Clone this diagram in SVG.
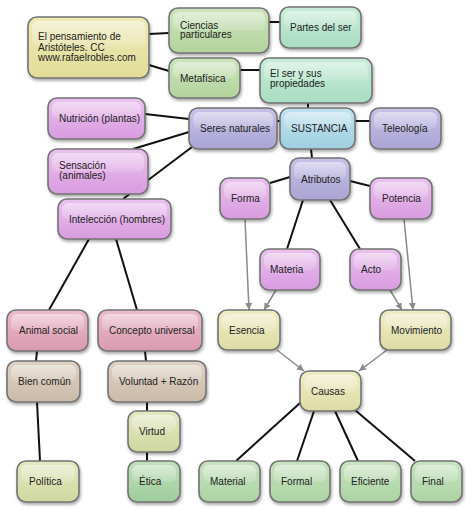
<svg xmlns="http://www.w3.org/2000/svg" width="474" height="514" viewBox="0 0 474 514">
<defs>
<style>
.box{stroke:#737373;stroke-width:1.6;filter:url(#sh)}
.gl{fill:url(#gloss)}
text{font-family:"Liberation Sans",Arial,sans-serif;font-size:10px;fill:#222}
.c{stroke:#111;stroke-width:2;fill:none}
.a{stroke:#8a8a8a;stroke-width:1.5;fill:none;marker-end:url(#ah)}
</style>
<filter id="sh" x="-20%" y="-20%" width="140%" height="150%"><feDropShadow dx="1" dy="2" stdDeviation="1.5" flood-color="#000" flood-opacity="0.35"/></filter>
<marker id="ah" viewBox="0 0 10 10" refX="10" refY="5" markerWidth="7" markerHeight="7" orient="auto" markerUnits="userSpaceOnUse"><path d="M0,0 L10,5 L0,10 z" fill="#8a8a8a"/></marker>
<linearGradient id="gloss" x1="0" y1="0" x2="0" y2="1"><stop offset="0" stop-color="#fff" stop-opacity="0.45"/><stop offset="1" stop-color="#fff" stop-opacity="0.12"/></linearGradient>
<linearGradient id="yellow" x1="0" y1="0" x2="0" y2="1"><stop offset="0" stop-color="#eeeab8"/><stop offset="1" stop-color="#e1dd98"/></linearGradient>
<linearGradient id="green1" x1="0" y1="0" x2="0" y2="1"><stop offset="0" stop-color="#cde4bc"/><stop offset="1" stop-color="#b2d39d"/></linearGradient>
<linearGradient id="mint" x1="0" y1="0" x2="0" y2="1"><stop offset="0" stop-color="#c6ecd8"/><stop offset="1" stop-color="#a9ddc2"/></linearGradient>
<linearGradient id="violet" x1="0" y1="0" x2="0" y2="1"><stop offset="0" stop-color="#eac2ee"/><stop offset="1" stop-color="#d89bdf"/></linearGradient>
<linearGradient id="lav" x1="0" y1="0" x2="0" y2="1"><stop offset="0" stop-color="#c6c2e6"/><stop offset="1" stop-color="#aaa4d4"/></linearGradient>
<linearGradient id="blue" x1="0" y1="0" x2="0" y2="1"><stop offset="0" stop-color="#c1e2ee"/><stop offset="1" stop-color="#9fcfe0"/></linearGradient>
<linearGradient id="pink" x1="0" y1="0" x2="0" y2="1"><stop offset="0" stop-color="#eabccb"/><stop offset="1" stop-color="#da9aae"/></linearGradient>
<linearGradient id="tan" x1="0" y1="0" x2="0" y2="1"><stop offset="0" stop-color="#ded2c4"/><stop offset="1" stop-color="#cbbaa8"/></linearGradient>
<linearGradient id="pale" x1="0" y1="0" x2="0" y2="1"><stop offset="0" stop-color="#eeecc6"/><stop offset="1" stop-color="#dedca4"/></linearGradient>
<linearGradient id="olive" x1="0" y1="0" x2="0" y2="1"><stop offset="0" stop-color="#e3e8c2"/><stop offset="1" stop-color="#d0d8a0"/></linearGradient>
<linearGradient id="green2" x1="0" y1="0" x2="0" y2="1"><stop offset="0" stop-color="#c8e3c0"/><stop offset="1" stop-color="#acd3a3"/></linearGradient>
<linearGradient id="green3" x1="0" y1="0" x2="0" y2="1"><stop offset="0" stop-color="#bfe0bb"/><stop offset="1" stop-color="#9fcd9c"/></linearGradient>
</defs>
<rect width="474" height="514" fill="#fff"/>
<g id="connectors">
<line class="c" x1="149" y1="34" x2="169" y2="33"/>
<line class="c" x1="149" y1="65" x2="169" y2="71"/>
<line class="c" x1="269" y1="22" x2="280" y2="22"/>
<line class="c" x1="240" y1="70" x2="260" y2="70"/>
<line class="c" x1="308" y1="103" x2="308" y2="108"/>
<line class="c" x1="277" y1="121" x2="280" y2="121"/>
<line class="c" x1="355" y1="121" x2="370" y2="121"/>
<line class="c" x1="311" y1="149" x2="312" y2="158"/>
<line class="c" x1="290" y1="177" x2="270" y2="183"/>
<line class="c" x1="350" y1="181" x2="370" y2="186"/>
<line class="c" x1="303" y1="200" x2="287" y2="249"/>
<line class="c" x1="330" y1="200" x2="360" y2="249"/>
<line class="c" x1="189" y1="119" x2="145" y2="114"/>
<line class="c" x1="189" y1="132" x2="133" y2="149"/>
<line class="c" x1="192" y1="147" x2="123" y2="199"/>
<line class="c" x1="89" y1="239" x2="49" y2="310"/>
<line class="c" x1="116" y1="239" x2="137" y2="310"/>
<line class="c" x1="37" y1="351" x2="36" y2="361"/>
<line class="c" x1="145" y1="351" x2="146" y2="361"/>
<line class="c" x1="37" y1="402" x2="40" y2="461"/>
<line class="c" x1="147" y1="402" x2="147" y2="411"/>
<line class="c" x1="147" y1="452" x2="147" y2="461"/>
<line class="c" x1="300" y1="403" x2="236" y2="461"/>
<line class="c" x1="314" y1="411" x2="297" y2="461"/>
<line class="c" x1="335" y1="411" x2="358" y2="461"/>
<line class="c" x1="355" y1="410" x2="415" y2="461"/>
<line class="a" x1="245" y1="219" x2="249" y2="310"/>
<line class="a" x1="276" y1="290" x2="264" y2="310"/>
<line class="a" x1="404" y1="219" x2="413" y2="310"/>
<line class="a" x1="390" y1="290" x2="402" y2="310"/>
<line class="a" x1="277" y1="350" x2="304" y2="371"/>
<line class="a" x1="387" y1="350" x2="359" y2="371"/>
</g>
<g id="n-intro"><rect class="box" x="28" y="17" width="121" height="61" rx="9" fill="url(#yellow)"/><rect class="gl" x="32" y="21" width="113" height="26" rx="6"/><text x="38" y="40">El pensamiento de</text><text x="38" y="50.5">Aristóteles. CC</text><text x="38" y="61">www.rafaelrobles.com</text></g>
<g id="n-ciencias"><rect class="box" x="169" y="8" width="100" height="45" rx="9" fill="url(#green1)"/><rect class="gl" x="173" y="12" width="92" height="19" rx="6"/><text x="180" y="28.5">Ciencias</text><text x="180" y="38">particulares</text></g>
<g id="n-partes"><rect class="box" x="280" y="7" width="81" height="41" rx="9" fill="url(#mint)"/><rect class="gl" x="284" y="11" width="73" height="17" rx="6"/><text x="290" y="31">Partes del ser</text></g>
<g id="n-metafisica"><rect class="box" x="169" y="58" width="71" height="40" rx="9" fill="url(#green1)"/><rect class="gl" x="173" y="62" width="63" height="17" rx="6"/><text x="180" y="81.5">Metafísica</text></g>
<g id="n-elser"><rect class="box" x="260" y="58" width="112" height="45" rx="9" fill="url(#mint)"/><rect class="gl" x="264" y="62" width="104" height="19" rx="6"/><text x="270" y="77">El ser y sus</text><text x="270" y="87">propiedades</text></g>
<g id="n-nutricion"><rect class="box" x="48" y="98" width="97" height="41" rx="9" fill="url(#violet)"/><rect class="gl" x="52" y="102" width="89" height="17" rx="6"/><text x="59" y="122">Nutrición (plantas)</text></g>
<g id="n-seres"><rect class="box" x="189" y="108" width="88" height="41" rx="9" fill="url(#lav)"/><rect class="gl" x="193" y="112" width="80" height="17" rx="6"/><text x="200" y="132">Seres naturales</text></g>
<g id="n-sustancia"><rect class="box" x="280" y="108" width="75" height="41" rx="9" fill="url(#blue)"/><rect class="gl" x="284" y="112" width="67" height="17" rx="6"/><text x="291" y="132">SUSTANCIA</text></g>
<g id="n-teleologia"><rect class="box" x="370" y="108" width="71" height="41" rx="9" fill="url(#lav)"/><rect class="gl" x="374" y="112" width="63" height="17" rx="6"/><text x="382" y="132">Teleología</text></g>
<g id="n-sensacion"><rect class="box" x="48" y="149" width="100" height="45" rx="9" fill="url(#violet)"/><rect class="gl" x="52" y="153" width="92" height="19" rx="6"/><text x="59" y="169">Sensación</text><text x="59" y="178.5">(animales)</text></g>
<g id="n-atributos"><rect class="box" x="290" y="158" width="60" height="42" rx="9" fill="url(#lav)"/><rect class="gl" x="294" y="162" width="52" height="17" rx="6"/><text x="301" y="182.5">Atributos</text></g>
<g id="n-forma"><rect class="box" x="220" y="178" width="50" height="41" rx="9" fill="url(#violet)"/><rect class="gl" x="224" y="182" width="42" height="17" rx="6"/><text x="231" y="202">Forma</text></g>
<g id="n-potencia"><rect class="box" x="370" y="178" width="62" height="41" rx="9" fill="url(#violet)"/><rect class="gl" x="374" y="182" width="54" height="17" rx="6"/><text x="382" y="202">Potencia</text></g>
<g id="n-inteleccion"><rect class="box" x="58" y="199" width="113" height="40" rx="9" fill="url(#violet)"/><rect class="gl" x="62" y="203" width="105" height="17" rx="6"/><text x="69" y="222.5">Intelección (hombres)</text></g>
<g id="n-materia"><rect class="box" x="260" y="249" width="60" height="41" rx="9" fill="url(#violet)"/><rect class="gl" x="264" y="253" width="52" height="17" rx="6"/><text x="270" y="273">Materia</text></g>
<g id="n-acto"><rect class="box" x="350" y="249" width="51" height="41" rx="9" fill="url(#violet)"/><rect class="gl" x="354" y="253" width="43" height="17" rx="6"/><text x="361" y="273">Acto</text></g>
<g id="n-animal"><rect class="box" x="7" y="310" width="81" height="41" rx="9" fill="url(#pink)"/><rect class="gl" x="11" y="314" width="73" height="17" rx="6"/><text x="19" y="334">Animal social</text></g>
<g id="n-concepto"><rect class="box" x="98" y="310" width="104" height="41" rx="9" fill="url(#pink)"/><rect class="gl" x="102" y="314" width="96" height="17" rx="6"/><text x="109" y="334">Concepto universal</text></g>
<g id="n-esencia"><rect class="box" x="218" y="310" width="62" height="40" rx="9" fill="url(#pale)"/><rect class="gl" x="222" y="314" width="54" height="17" rx="6"/><text x="229" y="333.5">Esencia</text></g>
<g id="n-movimiento"><rect class="box" x="380" y="310" width="71" height="40" rx="9" fill="url(#pale)"/><rect class="gl" x="384" y="314" width="63" height="17" rx="6"/><text x="391" y="333.5">Movimiento</text></g>
<g id="n-bien"><rect class="box" x="7" y="361" width="73" height="41" rx="9" fill="url(#tan)"/><rect class="gl" x="11" y="365" width="65" height="17" rx="6"/><text x="18" y="385">Bien común</text></g>
<g id="n-voluntad"><rect class="box" x="108" y="361" width="98" height="41" rx="9" fill="url(#tan)"/><rect class="gl" x="112" y="365" width="90" height="17" rx="6"/><text x="119" y="385">Voluntad + Razón</text></g>
<g id="n-causas"><rect class="box" x="300" y="371" width="61" height="40" rx="9" fill="url(#pale)"/><rect class="gl" x="304" y="375" width="53" height="17" rx="6"/><text x="311" y="394.5">Causas</text></g>
<g id="n-virtud"><rect class="box" x="128" y="411" width="52" height="41" rx="9" fill="url(#olive)"/><rect class="gl" x="132" y="415" width="44" height="17" rx="6"/><text x="139" y="435">Virtud</text></g>
<g id="n-politica"><rect class="box" x="17" y="461" width="62" height="41" rx="9" fill="url(#olive)"/><rect class="gl" x="21" y="465" width="54" height="17" rx="6"/><text x="29" y="485">Política</text></g>
<g id="n-etica"><rect class="box" x="128" y="461" width="52" height="41" rx="9" fill="url(#green3)"/><rect class="gl" x="132" y="465" width="44" height="17" rx="6"/><text x="139" y="485">Ética</text></g>
<g id="n-material"><rect class="box" x="199" y="461" width="61" height="41" rx="9" fill="url(#green2)"/><rect class="gl" x="203" y="465" width="53" height="17" rx="6"/><text x="210" y="485">Material</text></g>
<g id="n-formal"><rect class="box" x="270" y="461" width="60" height="41" rx="9" fill="url(#green2)"/><rect class="gl" x="274" y="465" width="52" height="17" rx="6"/><text x="281" y="485">Formal</text></g>
<g id="n-eficiente"><rect class="box" x="340" y="461" width="61" height="41" rx="9" fill="url(#green2)"/><rect class="gl" x="344" y="465" width="53" height="17" rx="6"/><text x="351" y="485">Eficiente</text></g>
<g id="n-final"><rect class="box" x="411" y="461" width="51" height="41" rx="9" fill="url(#green2)"/><rect class="gl" x="415" y="465" width="43" height="17" rx="6"/><text x="422" y="485">Final</text></g>
</svg>
